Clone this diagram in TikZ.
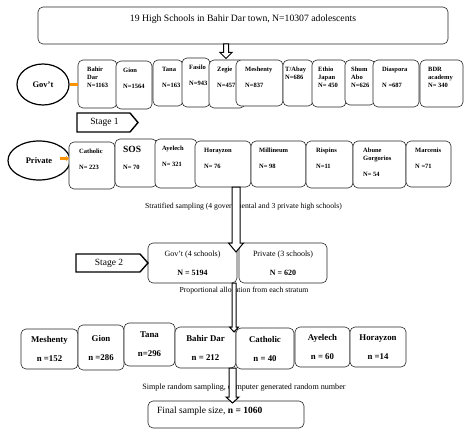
\documentclass[tikz,border=0pt]{standalone}
\usepackage{fontspec}
\setmainfont{Liberation Serif}
\usetikzlibrary{positioning, calc, shapes, arrows.meta}
\tikzstyle{school-box} = [rectangle, rounded corners=5pt, draw=black!85, fill=white,
 line width=0.6pt, inner sep=0, outer sep=0]
\tikzstyle{school-text} = [anchor=north west, inner sep=0, align=left,
 font=\bfseries\fontsize{6.5}{8}\selectfont]
\tikzstyle{sample-box} = [school-box, align=center, font=\bfseries\fontsize{8.8}{10}\selectfont]
\tikzstyle{stratum-box} = [school-box, align=center, font=\fontsize{8}{10}\selectfont]
\tikzstyle{stratum-ellipse} = [ellipse, draw=black, line width=1.2pt, inner sep=0,
 font=\bfseries\fontsize{8.5}{10}\selectfont]
\tikzstyle{stage-sign} = [rectangle, inner sep=0, outer sep=0]
\tikzstyle{stage-line} = [draw=black, line width=1.4pt, line join=miter]
\tikzstyle{stage-text} = [inner sep=0, font=\fontsize{9.5}{11}\selectfont]
\tikzstyle{stratum-link} = [draw=orange!85!yellow, line width=2.4pt]
\tikzstyle{hollow-arrow} = [draw=black, line width=1pt, fill=white, line join=miter]
\tikzstyle{note-text} = [inner sep=0, font=\fontsize{7.7}{9}\selectfont]
\newcommand{\SchoolBox}[7][8pt]{%
    \node (#2) [school-box, anchor=north west, minimum width=#5pt-#3pt,
        minimum height=#6pt-#4pt] at (#3,#4) {};
    \node (#2_LABEL) [school-text] at ([xshift=#1,yshift=-7pt]#2.north west) {#7};
}
\newcommand{\SampleBox}[7][sample-box]{%
    \node (#2) [#1, anchor=north west, minimum width=#5pt-#3pt,
        minimum height=#6pt-#4pt] at (#3,#4) {#7};
}
\newcommand{\StageSign}[3]{%
    \node (#1) [stage-sign, #2] {};
    \draw[stage-line] (#1.north west) -- ([xshift=-8pt]#1.north east) -- (#1.east)
        -- ([xshift=-8pt]#1.south east) -- (#1.south west) -- cycle;
    \node (#1_LABEL) [stage-text] at ([xshift=-3pt]#1.center) {#3};
}
\newcommand{\HollowArrow}[5]{%
    \draw[hollow-arrow] let \p1=(#1), \p2=(#2) in
        (\x2-#3,\y1) -- (\x2-#3,\y2+#5) -- (\x2-#4,\y2+#5) -- (\x2,\y2)
        -- (\x2+#4,\y2+#5) -- (\x2+#3,\y2+#5) -- (\x2+#3,\y1) -- cycle;
}

\begin{document}
\begin{tikzpicture}[x=1pt, y=-1pt]
\useasboundingbox (0,0) rectangle (474,436);

\SampleBox{ALL_SCHOOLS}{38}{7}{448}{44}{}
\node (ALL_SCHOOLS_LABEL) [anchor=north, inner sep=0, font=\fontsize{9.7}{11}\selectfont]
    at ([yshift=-8pt]ALL_SCHOOLS.north) {19 High Schools in Bahir Dar town, N=10307 adolescents};

% Governmental schools
\node (GOV_ELLIPSE) [stratum-ellipse, minimum width=52pt, minimum height=41pt] at (43,84.5) {Gov’t};

\SchoolBox[9pt]{GOV_BAHIR_DAR}{78}{60}{117}{108}{Bahir\\Dar\\N=1163}
\SchoolBox[7pt]{GOV_GION}{116}{61}{152}{109}{Gion\\[8pt]N=1564}
\SchoolBox[9pt]{GOV_TANA}{153}{60}{183}{106}{Tana\\[8pt]N=163}
\SchoolBox[7pt]{GOV_FASILO}{182}{58}{210}{107}{Fasilo\\[8pt]N=943}
\SchoolBox{GOV_ZEGIE}{209}{60}{245}{108}{Zegie\\[8pt]N=457}
\SchoolBox[9pt]{GOV_MESHENTY}{236}{60}{283}{106}{Meshenty\\[8pt]N=837}
\SchoolBox[2pt]{GOV_TABAY}{283}{60}{313}{106}{T/Abay\\N=686}
\SchoolBox[6pt]{GOV_ETHIO_JAPAN}{312}{60}{346}{107}{Ethio\\Japan\\N= 450}
\SchoolBox[6pt]{GOV_SHUM_ABO}{345}{60}{375}{105}{Shum\\Abo\\N=626}
\SchoolBox[9pt]{GOV_DIASPORA}{373}{60}{419}{107}{Diaspora\\[8pt]N =687}
\SchoolBox{GOV_BDR}{420}{60}{463}{107}{BDR\\academy\\N= 340}

\StageSign{STAGE_ONE}{minimum width=61pt, minimum height=19pt, at={(107.5,122.5)}}{Stage 1}

% Private schools
\node (PRIV_ELLIPSE) [stratum-ellipse, minimum width=62pt, minimum height=39pt] at (39,160.5) {Private};

\SchoolBox[10pt]{PRIV_CATHOLIC}{69}{142}{115}{189}{Catholic\\[8pt]N= 223}
\SchoolBox{PRIV_SOS}{115}{139}{157}{187}{{\fontsize{9.5}{11}\selectfont SOS}\\[9pt]N= 70}
\SchoolBox[7pt]{PRIV_AYELECH}{155}{139}{197}{188}{Ayelech\\[8pt]N= 321}
\SchoolBox[9pt]{PRIV_HORAYZON}{195}{141}{251}{187}{Horayzon\\[8pt]N= 76}
\SchoolBox{PRIV_MILLINEUM}{251}{141}{306}{187}{Millineum\\[8pt]N= 98}
\SchoolBox[10pt]{PRIV_RISPINS}{306}{141}{353}{188}{Rispins\\[8pt]N=11}
\SchoolBox[10pt]{PRIV_ABUNE}{353}{141}{406}{188}{Abune\\Gorgorios\\[8pt]N= 54}
\SchoolBox[9pt]{PRIV_MARCENIS}{406}{141}{451}{187}{Marcenis\\[8pt]N =71}

% Links from strata
\draw[stratum-link] (GOV_ELLIPSE.east) -- (GOV_ELLIPSE.east -| GOV_BAHIR_DAR.west);
\draw[stratum-link, -{Triangle[length=3pt, width=5pt]}] ([xshift=-11pt,yshift=2pt]PRIV_ELLIPSE.east)
    -- ([yshift=2pt]PRIV_ELLIPSE.east -| PRIV_CATHOLIC.west);

\node (STRATIFIED_NOTE) [note-text] at (243.5,207)
    {Stratified sampling (4 governmental and 3 private high schools)};

% Stage 2
\SampleBox[stratum-box]{STRATUM_GOV}{148}{243}{237}{283}{Gov’t (4 schools)\\[9pt]\textbf{N = 5194}}
\SampleBox[stratum-box]{STRATUM_PRIV}{239}{243}{327}{283}{Private (3 schools)\\[9pt]\textbf{N = 620}}
\StageSign{STAGE_TWO}{minimum width=72pt, minimum height=18pt, left=0pt of STRATUM_GOV}{Stage 2}

\node (ALLOCATION_NOTE) [note-text] at (244,291) {Proportional allocation from each stratum};

% Sampled schools
\SampleBox{SAMPLE_MESHENTY}{21}{329}{78}{369}{Meshenty\\[9pt]n =152}
\SampleBox{SAMPLE_GION}{78}{325}{124}{370}{Gion\\[9pt]n =286}
\SampleBox{SAMPLE_TANA}{124}{323}{175}{366}{Tana\\[9pt]n=296}
\SampleBox{SAMPLE_BAHIR_DAR}{175}{327}{236}{368}{Bahir Dar\\[9pt]n = 212}
\SampleBox{SAMPLE_CATHOLIC}{236}{328}{294}{369}{Catholic\\[9pt]n = 40}
\SampleBox{SAMPLE_AYELECH}{295}{327}{350}{367}{Ayelech\\[9pt]n = 60}
\SampleBox{SAMPLE_HORAYZON}{350}{327}{406}{367}{Horayzon\\[9pt]n =14}

\node (RANDOM_NOTE) [note-text, font=\fontsize{8.1}{9}\selectfont] at (244,388)
    {Simple random sampling, computer generated random number};

\SampleBox{FINAL_SAMPLE}{148}{401}{304}{428}{}
\node (FINAL_LABEL) [anchor=west, inner sep=0, font=\fontsize{9.5}{11}\selectfont]
    at ([xshift=9pt,yshift=3pt]FINAL_SAMPLE.west) {Final sample size, \textbf{n = 1060}};

% Hollow arrows between stages
\HollowArrow{ALL_SCHOOLS.south}{[xshift=-1pt,yshift=1.5pt]GOV_ZEGIE.north}{2.5pt}{6pt}{6pt}
\HollowArrow{PRIV_HORAYZON.south}{[xshift=-1pt,yshift=-9pt]STRATUM_GOV.north east}{4pt}{7.5pt}{9pt}
\HollowArrow{STRATUM_GOV.south east}{[xshift=-2pt,yshift=-5pt]SAMPLE_BAHIR_DAR.north east}{2pt}{4.5pt}{5pt}
\HollowArrow{SAMPLE_BAHIR_DAR.south east}{[xshift=6.5pt,yshift=-2pt]FINAL_SAMPLE.north}{3.5pt}{6.5pt}{6pt}

\end{tikzpicture}
\end{document}
